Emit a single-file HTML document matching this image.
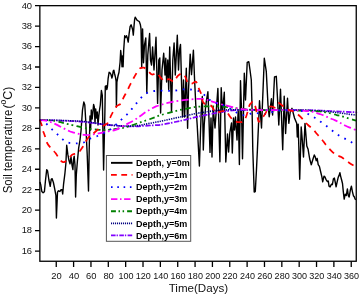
<!DOCTYPE html>
<html><head><meta charset="utf-8"><style>
html,body{margin:0;padding:0;background:#fff;}
svg{display:block;}
.t{font-family:"Liberation Sans",Arial,sans-serif;}
</style></head><body>
<svg width="360" height="296" viewBox="0 0 360 296">
<rect width="360" height="296" fill="#fff"/>
<g><polyline points="39.9,182 40.8,185 41.8,191.5 43.1,192.8 44.4,191.7 45.4,181.2 46.7,169.7 47.6,171 48.9,180 50.2,186.4 51.2,179.3 52.1,178.7 53.4,182.5 54.7,188.9 55.9,195.3 56.4,218 57.5,192.1 58.5,190.8 59.8,191.5 61.1,189.6 62,189.8 62.7,194 63.6,183.8 64.9,173.5 65.9,163.3 66.7,145.3 67.8,154.2 69,160.6 70,163.8 71,156.8 72,165 72.9,169.6 73.5,160 74.2,156.2 75,165 75.6,197 76.3,175 77.5,160 78.7,147.8 80,140 81,131 82.5,110 83.8,102 84.8,105 85.7,120 86.5,140 87.2,154.2 88.5,191 89.2,150 90,116 90.6,130 91.3,110 92.2,119 93.6,104.5 94.3,107 95,123 95.7,109 96.5,118 97.3,112 98,125 98.8,116 99.5,110 100.3,105 101.4,90.5 102.3,95.3 103.6,170 104.9,112 105.3,86.4 106.2,85.7 106.8,89.6 107.4,87 108.1,78.7 109.1,72.3 110,72.9 111,74.5 111.9,78 112.5,76 113.2,71 113.9,70.3 114.5,73.5 115.5,77.4 116.1,81.2 116.4,107 116.9,82 118,76 119,72.3 120.1,62 120.7,50.5 121.5,58 122,66.8 122.6,56 123.1,66.8 123.7,50 124.7,35.7 125.6,37.5 126.5,35.7 127.3,38 128.2,42.1 129.1,33.8 130.1,26.7 131.1,24.8 132,27.4 132.7,30 133.3,35.1 134,26.1 134.6,19.7 135.2,17.1 136.3,19 137.2,20.3 138.4,21 139.3,21.6 140.4,24.8 141,28.7 141.7,67.8 142.6,29 143.5,62.7 144.5,45 145.8,38 146.8,93 147.8,55 149.6,33.5 150.5,60 151.5,65 152.6,46.9 154,70 156,37.3 157.6,103.4 158.8,60 159.8,58 160.6,113 162,70 163.7,53.3 165,75 165.8,58.3 166.6,82 167.8,60 168.7,89.5 169.7,46.9 171.5,112.4 172.8,60 174.1,43 175.3,75 177.3,35.3 178.5,70 179.5,50 180.5,44.5 182.5,117 183.5,80 184.6,117 186.3,68.2 187.6,128.2 188.5,90 190.2,54.1 191.5,74.6 193.4,50.3 194.6,80 195.8,105 197.2,125 199.4,166 200.4,135 201.3,110 202.3,96.5 202.8,120 203.3,150 204.2,125 205.5,108 206.5,100 207.9,91.8 209,120 210,152.4 211,118 212,157 213.2,107.6 215,128 217.9,88.4 219.9,161.8 221.2,87.8 222.5,112 224.3,92.3 225.8,162 227.5,134 228.6,152 229.8,133 231.5,123 232.3,153 233.5,118 234.5,130 235.5,117 237,140 238.2,110 239.4,164.6 240.5,80.8 241.5,110 242.5,158.8 244.3,73.3 245.5,100 247.2,62.5 248.8,61.7 250,70 251.3,80 252.1,110 252.8,150 254.2,192 255.3,191.5 256.4,171 257.4,150 258.5,125 259.5,100.8 261.5,128 264.3,58.3 266.3,71.7 268,105 269.2,116.7 271.4,98.8 272.6,115 274.5,77 276.3,76.3 277.6,100 278.8,125 280.5,89.2 282.7,149.8 284.2,96.3 285.6,133.5 287.5,98.3 288.8,123.3 290.2,112 292,108.3 294.5,118 296.7,123.3 297.3,137 298.2,124.2 299.7,179.2 301.2,127 302.3,140 303.5,157 305,123.4 306.8,146 308.1,149.3 309.7,159 311.3,164.7 313,159 314.3,155 315.3,157 316.2,160.7 317.2,158.5 318.2,164.7 319.4,166.4 320.7,172 321.9,176.9 322.7,181.8 324,176.1 325,177 325.9,179.3 327.4,181.5 328.3,181 329,186.2 330.1,186.9 331.4,184.2 332.4,184.5 333.4,178.8 334.4,178.1 335.2,182 336.1,186.9 337.1,182.2 338.2,177.4 339.1,175.4 339.9,172.7 340.6,176.1 341.5,179.5 342.5,183.5 343.3,191.6 344.2,199.1 345.2,194.3 346.3,195.5 347.4,188.9 348.3,195.7 349.2,197 350.3,190.3 351.4,186.2 352.4,191.6 353.4,195.7 354.4,197 355.1,199.1 356,199.5" fill="none" stroke="#000" stroke-width="1.4" stroke-linejoin="round"/>
<path d="M39.8,120 C43.17,120.1 53.3,120.33 60,120.6 C66.7,120.87 75,121.27 80,121.6 C85,121.93 86.67,122.2 90,122.6 C93.33,123 96.67,123.57 100,124 C103.33,124.43 106.67,124.87 110,125.2 C113.33,125.53 117,125.8 120,126 C123,126.2 125.33,126.35 128,126.4 C130.67,126.45 133.17,126.4 136,126.3 C138.83,126.2 141.83,125.98 145,125.8 C148.17,125.62 151.83,125.45 155,125.2 C158.17,124.95 160.67,124.83 164,124.3 C167.33,123.77 171.5,122.75 175,122 C178.5,121.25 181.75,120.57 185,119.8 C188.25,119.03 191.33,118.13 194.5,117.4 C197.67,116.67 200.88,116.05 204,115.4 C207.12,114.75 210.2,114.07 213.2,113.5 C216.2,112.93 218.78,112.52 222,112 C225.22,111.48 228.67,110.73 232.5,110.4 C236.33,110.07 238.75,110.07 245,110 C251.25,109.93 260.83,110 270,110 C279.17,110 291.67,109.92 300,110 C308.33,110.08 315,110.33 320,110.5 C325,110.67 326.67,110.83 330,111 C333.33,111.17 335.85,111.3 340,111.5 C344.15,111.7 352.23,112.07 354.9,112.2 C357.57,112.33 355.82,112.28 356,112.3" fill="none" stroke="#8000ff" stroke-width="1.7" stroke-dasharray="5.34 1.16 1.51 1.62"/>
<path d="M39.8,120 C43.17,120.07 53.3,120.2 60,120.4 C66.7,120.6 75,120.88 80,121.2 C85,121.52 86.67,121.87 90,122.3 C93.33,122.73 96.67,123.35 100,123.8 C103.33,124.25 106.67,124.67 110,125 C113.33,125.33 117,125.62 120,125.8 C123,125.98 125.33,126.08 128,126.1 C130.67,126.12 133.17,126.2 136,125.9 C138.83,125.6 141.83,124.9 145,124.3 C148.17,123.7 151.83,122.92 155,122.3 C158.17,121.68 160.63,121.32 164,120.6 C167.37,119.88 171.7,118.77 175.2,118 C178.7,117.23 181.78,116.7 185,116 C188.22,115.3 191.33,114.43 194.5,113.8 C197.67,113.17 200.88,112.68 204,112.2 C207.12,111.72 210.2,111.23 213.2,110.9 C216.2,110.57 218.78,110.4 222,110.2 C225.22,110 227.83,109.77 232.5,109.7 C237.17,109.63 243.75,109.75 250,109.8 C256.25,109.85 261.67,109.93 270,110 C278.33,110.07 291.67,110.05 300,110.2 C308.33,110.35 315,110.63 320,110.9 C325,111.17 326.67,111.45 330,111.8 C333.33,112.15 337,112.62 340,113 C343,113.38 345.52,113.78 348,114.1 C350.48,114.42 353.57,114.75 354.9,114.9 C356.23,115.05 355.82,114.98 356,115" fill="none" stroke="#000080" stroke-width="1.6" stroke-dasharray="1.28 1.04"/>
<path d="M39.8,120 C41.17,120.05 45.4,120.13 48,120.3 C50.6,120.47 53.32,120.68 55.4,121 C57.48,121.32 58.8,121.78 60.5,122.2 C62.2,122.62 63.8,123.05 65.6,123.5 C67.4,123.95 69.65,124.5 71.3,124.9 C72.95,125.3 74.2,125.6 75.5,125.9 C76.8,126.2 77.52,126.35 79.1,126.7 C80.68,127.05 82.97,127.62 85,128 C87.03,128.38 89.3,128.73 91.3,129 C93.3,129.27 94.8,129.43 97,129.6 C99.2,129.77 102.33,129.98 104.5,130 C106.67,130.02 107.75,129.93 110,129.7 C112.25,129.47 115.5,128.97 118,128.6 C120.5,128.23 122.83,128 125,127.5 C127.17,127 128.97,126.27 131,125.6 C133.03,124.93 135.28,124.17 137.2,123.5 C139.12,122.83 140.67,122.23 142.5,121.6 C144.33,120.97 146.28,120.37 148.2,119.7 C150.12,119.03 151.97,118.35 154,117.6 C156.03,116.85 157.93,116 160.4,115.2 C162.87,114.4 166.37,113.47 168.8,112.8 C171.23,112.13 172.87,111.73 175,111.2 C177.13,110.67 179.43,110.08 181.6,109.6 C183.77,109.12 185.85,108.72 188,108.3 C190.15,107.88 192.42,107.38 194.5,107.1 C196.58,106.82 198.45,106.72 200.5,106.6 C202.55,106.48 204.72,106.45 206.8,106.4 C208.88,106.35 210.87,106.3 213,106.3 C215.13,106.3 217.43,106.3 219.6,106.4 C221.77,106.5 223.85,106.68 226,106.9 C228.15,107.12 230.17,107.42 232.5,107.7 C234.83,107.98 237.08,108.3 240,108.6 C242.92,108.9 245,109.23 250,109.5 C255,109.77 263.33,110.05 270,110.2 C276.67,110.35 283.33,110.3 290,110.4 C296.67,110.5 305,110.62 310,110.8 C315,110.98 317.4,111.25 320,111.5 C322.6,111.75 323.6,111.93 325.6,112.3 C327.6,112.67 330.15,113.23 332,113.7 C333.85,114.17 335.35,114.75 336.7,115.1 C338.05,115.45 338.55,115.38 340.1,115.8 C341.65,116.22 343.92,116.97 346,117.6 C348.08,118.23 350.93,119.1 352.6,119.6 C354.27,120.1 355.43,120.43 356,120.6" fill="none" stroke="#008000" stroke-width="1.75" stroke-dasharray="5.68 3.02 1.74 3.02 1.74 3.48"/>
<path d="M39.8,120 C40.5,120.05 42.68,120.13 44,120.3 C45.32,120.47 46.53,120.68 47.7,121 C48.87,121.32 49.93,121.78 51,122.2 C52.07,122.62 52.93,122.97 54.1,123.5 C55.27,124.03 56.72,124.75 58,125.4 C59.28,126.05 60.53,126.75 61.8,127.4 C63.07,128.05 64.32,128.67 65.6,129.3 C66.88,129.93 68.32,130.7 69.5,131.2 C70.68,131.7 71.63,131.97 72.7,132.3 C73.77,132.63 74.68,132.88 75.9,133.2 C77.12,133.52 78.53,133.92 80,134.2 C81.47,134.48 83.42,134.77 84.7,134.9 C85.98,135.03 86.48,135.07 87.7,135 C88.92,134.93 90.5,134.68 92,134.5 C93.5,134.32 95.28,134.13 96.7,133.9 C98.12,133.67 99.02,133.45 100.5,133.1 C101.98,132.75 103.85,132.15 105.6,131.8 C107.35,131.45 109.35,131.32 111,131 C112.65,130.68 114,130.43 115.5,129.9 C117,129.37 118.58,128.52 120,127.8 C121.42,127.08 122.62,126.33 124,125.6 C125.38,124.87 126.97,124.08 128.3,123.4 C129.63,122.72 130.72,122.23 132,121.5 C133.28,120.77 134.83,119.75 136,119 C137.17,118.25 137.98,117.72 139,117 C140.02,116.28 141.02,115.48 142.1,114.7 C143.18,113.92 144.38,113.03 145.5,112.3 C146.62,111.57 147.72,110.95 148.8,110.3 C149.88,109.65 150.8,109.05 152,108.4 C153.2,107.75 154.33,107.05 156,106.4 C157.67,105.75 159.87,105.13 162,104.5 C164.13,103.87 166.63,103.13 168.8,102.6 C170.97,102.07 172.87,101.67 175,101.3 C177.13,100.93 179.43,100.68 181.6,100.4 C183.77,100.12 185.85,99.82 188,99.6 C190.15,99.38 192.22,99.23 194.5,99.1 C196.78,98.97 199.62,98.68 201.7,98.8 C203.78,98.92 205.08,99.28 207,99.8 C208.92,100.32 210.67,101.12 213.2,101.9 C215.73,102.68 218.98,103.63 222.2,104.5 C225.42,105.37 229.53,106.38 232.5,107.1 C235.47,107.82 237.08,108.35 240,108.8 C242.92,109.25 245,109.57 250,109.8 C255,110.03 263.33,110.12 270,110.2 C276.67,110.28 284.17,110.2 290,110.3 C295.83,110.4 301.2,110.55 305,110.8 C308.8,111.05 310.22,111.22 312.8,111.8 C315.38,112.38 318.03,113.42 320.5,114.3 C322.97,115.18 325.58,116.27 327.6,117.1 C329.62,117.93 330.9,118.57 332.6,119.3 C334.3,120.03 336.4,120.85 337.8,121.5 C339.2,122.15 339.7,122.48 341,123.2 C342.3,123.92 344.02,125.02 345.6,125.8 C347.18,126.58 348.77,127.18 350.5,127.9 C352.23,128.62 355.08,129.73 356,130.1" fill="none" stroke="#ff00ff" stroke-width="1.75" stroke-dasharray="7.42 3.02 1.74 3.02"/>
<path d="M39.8,120 C40.33,120.27 41.9,120.97 43,121.6 C44.1,122.23 45.3,122.9 46.4,123.8 C47.5,124.7 48.53,125.95 49.6,127 C50.67,128.05 51.75,129.1 52.8,130.1 C53.85,131.1 54.87,132.05 55.9,133 C56.93,133.95 57.98,134.85 59,135.8 C60.02,136.75 61,137.78 62,138.7 C63,139.62 64,140.65 65,141.3 C66,141.95 66.93,142.28 68,142.6 C69.07,142.92 70.3,143.05 71.4,143.2 C72.5,143.35 73.53,143.48 74.6,143.5 C75.67,143.52 76.77,143.38 77.8,143.3 C78.83,143.22 79.8,143.13 80.8,143 C81.8,142.87 82.77,142.92 83.8,142.5 C84.83,142.08 85.92,141.18 87,140.5 C88.08,139.82 89.22,138.93 90.3,138.4 C91.38,137.87 92.43,137.65 93.5,137.3 C94.57,136.95 95.62,136.68 96.7,136.3 C97.78,135.92 98.92,135.47 100,135 C101.08,134.53 102.15,134.02 103.2,133.5 C104.25,132.98 105.25,132.48 106.3,131.9 C107.35,131.32 108.47,130.68 109.5,130 C110.53,129.32 111.48,128.63 112.5,127.8 C113.52,126.97 114.57,125.93 115.6,125 C116.63,124.07 117.68,123.15 118.7,122.2 C119.72,121.25 120.68,120.23 121.7,119.3 C122.72,118.37 123.77,117.53 124.8,116.6 C125.83,115.67 126.9,114.75 127.9,113.7 C128.9,112.65 129.85,111.47 130.8,110.3 C131.75,109.13 132.63,107.88 133.6,106.7 C134.57,105.52 135.62,104.37 136.6,103.2 C137.58,102.03 138.53,100.82 139.5,99.7 C140.47,98.58 141.45,97.45 142.4,96.5 C143.35,95.55 144.22,94.67 145.2,94 C146.18,93.33 147.27,92.9 148.3,92.5 C149.33,92.1 150.32,91.85 151.4,91.6 C152.48,91.35 153.67,91.15 154.8,91 C155.93,90.85 156.5,90.75 158.2,90.7 C159.9,90.65 162.8,90.67 165,90.7 C167.2,90.73 169.4,90.97 171.4,90.9 C173.4,90.83 174.97,90.57 177,90.3 C179.03,90.03 181.43,89.43 183.6,89.3 C185.77,89.17 187.83,89.32 190,89.5 C192.17,89.68 195.02,90.08 196.6,90.4 C198.18,90.72 198.55,90.97 199.5,91.4 C200.45,91.83 201.35,92.27 202.3,93 C203.25,93.73 204.23,94.85 205.2,95.8 C206.17,96.75 207.13,97.87 208.1,98.7 C209.07,99.53 209.93,100.17 211,100.8 C212.07,101.43 213.33,102.03 214.5,102.5 C215.67,102.97 216.82,103.25 218,103.6 C219.18,103.95 220.43,104.2 221.6,104.6 C222.77,105 223.83,105.48 225,106 C226.17,106.52 227.52,107.12 228.6,107.7 C229.68,108.28 230.52,108.9 231.5,109.5 C232.48,110.1 233.58,110.75 234.5,111.3 C235.42,111.85 236.15,112.38 237,112.8 C237.85,113.22 238.6,113.43 239.6,113.8 C240.6,114.17 241.93,114.73 243,115 C244.07,115.27 245,115.52 246,115.4 C247,115.28 247.93,114.7 249,114.3 C250.07,113.9 251.32,113.2 252.4,113 C253.48,112.8 254.43,113.03 255.5,113.1 C256.57,113.17 257.72,113.28 258.8,113.4 C259.88,113.52 260.92,113.7 262,113.8 C263.08,113.9 264.22,114.08 265.3,114 C266.38,113.92 267.38,113.62 268.5,113.3 C269.62,112.98 270.75,112.47 272,112.1 C273.25,111.73 274.67,111.35 276,111.1 C277.33,110.85 277.67,110.73 280,110.6 C282.33,110.47 287.33,110.32 290,110.3 C292.67,110.28 293.9,110.37 296,110.5 C298.1,110.63 300.97,110.75 302.6,111.1 C304.23,111.45 304.73,112.03 305.8,112.6 C306.87,113.17 307.93,113.88 309,114.5 C310.07,115.12 311.13,115.7 312.2,116.3 C313.27,116.9 314.33,117.45 315.4,118.1 C316.47,118.75 317.58,119.48 318.6,120.2 C319.62,120.92 320.47,121.63 321.5,122.4 C322.53,123.17 323.72,124 324.8,124.8 C325.88,125.6 326.95,126.38 328,127.2 C329.05,128.02 330.07,128.87 331.1,129.7 C332.13,130.53 333.18,131.43 334.2,132.2 C335.22,132.97 336.18,133.62 337.2,134.3 C338.22,134.98 339.23,135.68 340.3,136.3 C341.37,136.92 342.5,137.45 343.6,138 C344.7,138.55 345.83,139.03 346.9,139.6 C347.97,140.17 348.97,140.8 350,141.4 C351.03,142 352.1,142.63 353.1,143.2 C354.1,143.77 355.52,144.53 356,144.8" fill="none" stroke="#0000ff" stroke-width="1.8" stroke-dasharray="1.7 5.7"/>
<path d="M39.8,120 C39.93,120.38 40.23,121.3 40.6,122.3 C40.97,123.3 41.6,124.6 42,126 C42.4,127.4 42.63,129.37 43,130.7 C43.37,132.03 43.85,133.02 44.2,134 C44.55,134.98 44.73,135.38 45.1,136.6 C45.47,137.82 45.92,139.98 46.4,141.3 C46.88,142.62 47.35,143.5 48,144.5 C48.65,145.5 49.47,146.33 50.3,147.3 C51.13,148.27 52.1,149.3 53,150.3 C53.9,151.3 54.75,152.02 55.7,153.3 C56.65,154.58 57.82,156.75 58.7,158 C59.58,159.25 60.23,160.1 61,160.8 C61.77,161.5 62.55,162.12 63.3,162.2 C64.05,162.28 64.72,161.78 65.5,161.3 C66.28,160.82 67.03,160.27 68,159.3 C68.97,158.33 70.47,156.35 71.3,155.5 C72.13,154.65 72.13,154.53 73,154.2 C73.87,153.87 75.58,153.78 76.5,153.5 C77.42,153.22 77.75,153.17 78.5,152.5 C79.25,151.83 80.25,150.5 81,149.5 C81.75,148.5 82.25,147.75 83,146.5 C83.75,145.25 84.67,143.42 85.5,142 C86.33,140.58 87.17,139.08 88,138 C88.83,136.92 89.67,136.2 90.5,135.5 C91.33,134.8 92,134.58 93,133.8 C94,133.02 95.03,131.98 96.5,130.8 C97.97,129.62 100.42,127.68 101.8,126.7 C103.18,125.72 103.87,125.47 104.8,124.9 C105.73,124.33 106.7,124.03 107.4,123.3 C108.1,122.57 108.45,121.63 109,120.5 C109.55,119.37 109.98,118.03 110.7,116.5 C111.42,114.97 112.32,113 113.3,111.3 C114.28,109.6 115.65,107.38 116.6,106.3 C117.55,105.22 118.15,105.37 119,104.8 C119.85,104.23 120.97,104.07 121.7,102.9 C122.43,101.73 122.77,99.28 123.4,97.8 C124.03,96.32 124.8,95.27 125.5,94 C126.2,92.73 126.97,91.48 127.6,90.2 C128.23,88.92 128.73,87.47 129.3,86.3 C129.87,85.13 130.43,84.23 131,83.2 C131.57,82.17 132.2,81.05 132.7,80.1 C133.2,79.15 133.45,78.52 134,77.5 C134.55,76.48 135.13,75.42 136,74 C136.87,72.58 138.28,70.03 139.2,69 C140.12,67.97 140.75,68.03 141.5,67.8 C142.25,67.57 143.03,67.45 143.7,67.6 C144.37,67.75 144.85,68.17 145.5,68.7 C146.15,69.23 146.85,70.08 147.6,70.8 C148.35,71.52 149.27,72.38 150,73 C150.73,73.62 151.25,74.33 152,74.5 C152.75,74.67 153.63,74.25 154.5,74 C155.37,73.75 156.32,72.57 157.2,73 C158.08,73.43 159,75.6 159.8,76.6 C160.6,77.6 161.25,78.25 162,79 C162.75,79.75 163.55,80.93 164.3,81.1 C165.05,81.27 165.75,80.32 166.5,80 C167.25,79.68 167.97,79.12 168.8,79.2 C169.63,79.28 170.63,80.08 171.5,80.5 C172.37,80.92 173.05,82.35 174,81.7 C174.95,81.05 176.28,77.8 177.2,76.6 C178.12,75.4 178.77,75.03 179.5,74.5 C180.23,73.97 180.93,73.4 181.6,73.4 C182.27,73.4 182.85,73.87 183.5,74.5 C184.15,75.13 184.75,75.78 185.5,77.2 C186.25,78.62 186.93,81.93 188,83 C189.07,84.07 190.62,83.82 191.9,83.6 C193.18,83.38 194.77,81.55 195.7,81.7 C196.63,81.85 197.03,83.48 197.5,84.5 C197.97,85.52 197.92,86.28 198.5,87.8 C199.08,89.32 200.37,91.53 201,93.6 C201.63,95.67 201.8,98.58 202.3,100.2 C202.8,101.82 203.03,102.58 204,103.3 C204.97,104.02 206.77,103.95 208.1,104.5 C209.43,105.05 210.82,105.3 212,106.6 C213.18,107.9 214.2,111.35 215.2,112.3 C216.2,113.25 217.15,112.42 218,112.3 C218.85,112.18 219.47,111.82 220.3,111.6 C221.13,111.38 222.05,111.17 223,111 C223.95,110.83 225.17,110.18 226,110.6 C226.83,111.02 227.25,112.38 228,113.5 C228.75,114.62 229.53,116.08 230.5,117.3 C231.47,118.52 232.8,120.05 233.8,120.8 C234.8,121.55 235.53,121.58 236.5,121.8 C237.47,122.02 238.55,122.15 239.6,122.1 C240.65,122.05 241.73,122.35 242.8,121.5 C243.87,120.65 244.93,119.57 246,117 C247.07,114.43 248.37,108.38 249.2,106.1 C250.03,103.82 250.35,104.02 251,103.3 C251.65,102.58 252.33,101.12 253.1,101.8 C253.87,102.48 254.85,104.77 255.6,107.4 C256.35,110.03 257.07,115.2 257.6,117.6 C258.13,120 258.07,121.68 258.8,121.8 C259.53,121.92 260.92,119.67 262,118.3 C263.08,116.93 264.22,115.38 265.3,113.6 C266.38,111.82 267.63,108.78 268.5,107.6 C269.37,106.42 269.75,106.63 270.5,106.5 C271.25,106.37 272.25,106.63 273,106.8 C273.75,106.97 274.13,108.13 275,107.5 C275.87,106.87 276.92,103.27 278.2,103 C279.48,102.73 281.42,104.98 282.7,105.9 C283.98,106.82 284.83,107.78 285.9,108.5 C286.97,109.22 288,109.78 289.1,110.2 C290.2,110.62 291.35,110.53 292.5,111 C293.65,111.47 294.65,112.03 296,113 C297.35,113.97 299.18,115.42 300.6,116.8 C302.02,118.18 303.27,119.93 304.5,121.3 C305.73,122.67 306.62,123.72 308,125 C309.38,126.28 311.3,127.5 312.8,129 C314.3,130.5 315.55,132.33 317,134 C318.45,135.67 320,137.17 321.5,139 C323,140.83 324.37,143.03 326,145 C327.63,146.97 329.58,149.13 331.3,150.8 C333.02,152.47 334.63,153.97 336.3,155 C337.97,156.03 339.63,156.03 341.3,157 C342.97,157.97 344.63,159.6 346.3,160.8 C347.97,162 349.68,163.2 351.3,164.2 C352.92,165.2 355.22,166.37 356,166.8" fill="none" stroke="#ff0000" stroke-width="1.75" stroke-dasharray="6.4 5.2"/></g>
<g><rect x="39.85" y="5.67" width="316.4" height="255.58" fill="none" stroke="#000" stroke-width="1.3"/>
<path d="M35,251.03 H39.85 M35,230.58 H39.85 M35,210.13 H39.85 M35,189.69 H39.85 M35,169.24 H39.85 M35,148.79 H39.85 M35,128.35 H39.85 M35,107.9 H39.85 M35,87.46 H39.85 M35,67.01 H39.85 M35,46.56 H39.85 M35,26.12 H39.85 M35,5.67 H39.85 M56.25,261.25 V267 M73.6,261.25 V267 M90.96,261.25 V267 M108.31,261.25 V267 M125.66,261.25 V267 M143.01,261.25 V267 M160.36,261.25 V267 M177.72,261.25 V267 M195.07,261.25 V267 M212.42,261.25 V267 M229.77,261.25 V267 M247.12,261.25 V267 M264.48,261.25 V267 M281.83,261.25 V267 M299.18,261.25 V267 M316.53,261.25 V267 M333.88,261.25 V267 M351.24,261.25 V267" stroke="#000" stroke-width="1.3" fill="none"/></g>
<g class="t" font-size="9.4" fill="#111"><text x="32.1" y="253.88" text-anchor="end">16</text>
<text x="32.1" y="233.43" text-anchor="end">18</text>
<text x="32.1" y="212.98" text-anchor="end">20</text>
<text x="32.1" y="192.54" text-anchor="end">22</text>
<text x="32.1" y="172.09" text-anchor="end">24</text>
<text x="32.1" y="151.64" text-anchor="end">26</text>
<text x="32.1" y="131.2" text-anchor="end">28</text>
<text x="32.1" y="110.75" text-anchor="end">30</text>
<text x="32.1" y="90.31" text-anchor="end">32</text>
<text x="32.1" y="69.86" text-anchor="end">34</text>
<text x="32.1" y="49.41" text-anchor="end">36</text>
<text x="32.1" y="28.97" text-anchor="end">38</text>
<text x="32.1" y="8.52" text-anchor="end">40</text>
<text x="56.55" y="278.5" text-anchor="middle">20</text>
<text x="73.9" y="278.5" text-anchor="middle">40</text>
<text x="91.26" y="278.5" text-anchor="middle">60</text>
<text x="108.61" y="278.5" text-anchor="middle">80</text>
<text transform="translate(125.96,278.5) scale(0.96,1)" text-anchor="middle">100</text>
<text transform="translate(143.31,278.5) scale(0.96,1)" text-anchor="middle">120</text>
<text transform="translate(160.66,278.5) scale(0.96,1)" text-anchor="middle">140</text>
<text transform="translate(178.02,278.5) scale(0.96,1)" text-anchor="middle">160</text>
<text transform="translate(195.37,278.5) scale(0.96,1)" text-anchor="middle">180</text>
<text transform="translate(212.72,278.5) scale(0.96,1)" text-anchor="middle">200</text>
<text transform="translate(230.07,278.5) scale(0.96,1)" text-anchor="middle">220</text>
<text transform="translate(247.42,278.5) scale(0.96,1)" text-anchor="middle">240</text>
<text transform="translate(264.78,278.5) scale(0.96,1)" text-anchor="middle">260</text>
<text transform="translate(282.13,278.5) scale(0.96,1)" text-anchor="middle">280</text>
<text transform="translate(299.48,278.5) scale(0.96,1)" text-anchor="middle">300</text>
<text transform="translate(316.83,278.5) scale(0.96,1)" text-anchor="middle">320</text>
<text transform="translate(334.18,278.5) scale(0.96,1)" text-anchor="middle">340</text>
<text transform="translate(351.54,278.5) scale(0.96,1)" text-anchor="middle">360</text></g>
<g class="t" font-size="9.5" font-weight="bold" fill="#000"><rect x="106.4" y="155.5" width="84.3" height="85.8" fill="#fff" stroke="#555" stroke-width="1"/>
<path d="M111,162.85 H132.5" stroke="#000" stroke-width="1.9"/>
<text transform="translate(135.9,166.05) scale(0.95,1)">Depth, y=0m</text>
<path d="M111,174.95 H132.5" stroke="#ff0000" stroke-width="1.8" stroke-dasharray="5.8 4.5"/>
<text transform="translate(135.9,178.15) scale(0.95,1)">Depth,y=1m</text>
<path d="M111,187.05 H132.5" stroke="#0000ff" stroke-width="1.8" stroke-dasharray="1.6 4.7"/>
<text transform="translate(135.9,190.25) scale(0.95,1)">Depth,y=2m</text>
<path d="M111,199.15 H132.5" stroke="#ff00ff" stroke-width="1.8" stroke-dasharray="6.4 2.6 1.5 2.6"/>
<text transform="translate(135.9,202.35) scale(0.95,1)">Depth,y=3m</text>
<path d="M111,211.25 H132.5" stroke="#008000" stroke-width="1.8" stroke-dasharray="4.9 2.6 1.5 2.6 1.5 3"/>
<text transform="translate(135.9,214.45) scale(0.95,1)">Depth,y=4m</text>
<path d="M111,223.35 H132.5" stroke="#000080" stroke-width="1.6" stroke-dasharray="1.1 0.9"/>
<text transform="translate(135.9,226.55) scale(0.95,1)">Depth,y=5m</text>
<path d="M111,235.45 H132.5" stroke="#8000ff" stroke-width="1.8" stroke-dasharray="4.6 1 1.3 1.4"/>
<text transform="translate(135.9,238.65) scale(0.95,1)">Depth,y=6m</text></g>
<text class="t" x="198.4" y="292.4" font-size="11.6" text-anchor="middle" fill="#111">Time(Days)</text>
<text class="t" transform="translate(12.1,193.3) rotate(-90) scale(0.921,1)" font-size="12.4" fill="#111">Soil temperature</text>
<text class="t" transform="translate(12.1,108.6) rotate(-90)" font-size="12.4" fill="#111">(<tspan font-size="8.6" dy="-6.4">o</tspan><tspan dy="6.4">C)</tspan></text>
</svg>
</body></html>
